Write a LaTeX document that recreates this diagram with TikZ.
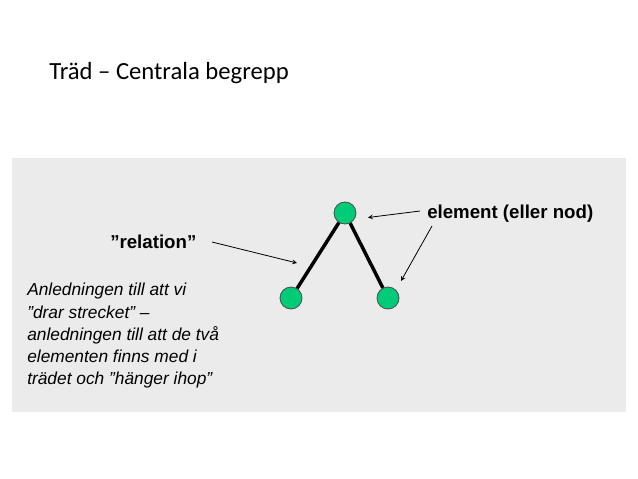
\documentclass[tikz,border=0pt]{standalone}
\usepackage{fontspec}
\setmainfont{Liberation Sans}
\newfontfamily\titlefont{Carlito}
\definecolor{bg}{HTML}{EBEBEB}
\definecolor{grn}{HTML}{00CC77}
\begin{document}
\begin{tikzpicture}[x=0.75pt,y=-0.75pt,
  elem/.style={circle,draw=black!70,fill=grn,minimum size=16.5pt,inner sep=0pt,line width=0.6pt},
  edge/.style={line width=2.6pt},
  pointer/.style={-stealth,line width=0.6pt},
  lbl/.style={font=\bfseries\fontsize{14}{16}\selectfont,inner sep=0pt}]
\useasboundingbox (0,0) rectangle (638,478);
\fill[white] (0,0) rectangle (638,478);
\fill[bg] (12,158) rectangle (626,412);
\node[anchor=west,font=\titlefont\fontsize{18.5}{22}\selectfont,inner sep=0pt] (title) at (49,73) {Träd – Centrala begrepp};
\node[elem] (top) at (345,213) {};
\node[elem] (left) at (291,298) {};
\node[elem] (right) at (388,298) {};
\draw[edge] (top) -- (left);
\draw[edge] (top) -- (right);
\node[lbl,anchor=west] (el) at (427,214) {element (eller nod)};
\node[lbl,anchor=west] (rel) at (110,242) {”relation”};
\coordinate (e1) at (420,211);
\coordinate (e2) at (432,226);
\coordinate (r1) at (212,242);
\draw[pointer] (e1) -- (368,217.5);
\draw[pointer] (e2) -- (401,281);
\draw[pointer] (r1) -- (297,263);
\node[anchor=north west,align=left,inner sep=0pt,font=\itshape\fontsize{13}{16.7}\selectfont] (desc) at (27,283)
{Anledningen till att vi\\”drar strecket” –\\anledningen till att de två\\elementen finns med i\\trädet och ”hänger ihop”};
\end{tikzpicture}
\end{document}
